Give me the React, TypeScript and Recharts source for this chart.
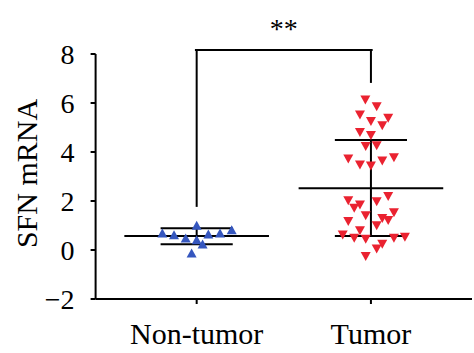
import { ScatterChart, Scatter, XAxis, YAxis, ReferenceLine, Label } from 'recharts';

const groups = ['Non-tumor', 'Tumor'];

// jittered x (group index + offset) and SFN mRNA values
const nonTumorX = [0.803, 0.87, 0.937, 1.0, 1.0, 1.034, 1.067, 1.134, 1.201, 0.971];
const nonTumorY = [0.69, 0.62, 0.49, 1.01, 0.42, 0.24, 0.65, 0.69, 0.83, -0.12];

const tumorX = [
  1.968, 2.033, 1.937, 2.099, 2.0, 2.065, 1.937, 2.0, 1.97, 2.033,
  1.87, 1.937, 2.0, 2.065, 2.132, 1.87, 1.937, 2.033, 2.099, 1.904,
  1.97, 2.065, 2.132, 2.099, 1.87, 2.033, 1.937, 1.838, 1.904, 1.97,
  2.132, 2.195, 2.065, 2.033, 1.97,
];
const tumorY = [
  6.12, 5.85, 5.51, 5.38, 5.24, 5.07, 4.8, 4.67, 4.22, 4.26,
  3.71, 3.47, 3.43, 3.63, 3.77, 2.01, 1.84, 1.97, 2.18, 1.7,
  1.4, 1.29, 1.52, 1.2, 1.16, 0.99, 0.79, 0.61, 0.48, 0.44,
  0.48, 0.52, 0.23, 0.04, -0.27,
];

const groupMean = [0.57, 2.52];
const groupSdLow = [0.23, 0.57];
const groupSdHigh = [0.89, 4.49];

const yTicks = [-2, 0, 2, 4, 6, 8];

const nonTumorData = nonTumorX.map((x, i) => ({ x, y: nonTumorY[i] }));
const tumorData = tumorX.map((x, i) => ({ x, y: tumorY[i] }));

const FONT = '"Liberation Serif", "Times New Roman", serif';
const MEAN_HALF = 0.415;
const SD_HALF = 0.207;

const UpTri = (props: any) => {
  const { cx, cy } = props;
  return <polygon points={`${cx},${cy - 4.5} ${cx - 5},${cy + 4.5} ${cx + 5},${cy + 4.5}`} fill="#3556be" />;
};

const DownTri = (props: any) => {
  const { cx, cy } = props;
  return <polygon points={`${cx - 5},${cy - 4.5} ${cx + 5},${cy - 4.5} ${cx},${cy + 4.5}`} fill="#ea2230" />;
};

export default function App() {
  const line = { stroke: '#000', strokeWidth: 2 };
  return (
    <div style={{ position: 'absolute', left: 0, top: 0, background: '#fff' }}>
      <ScatterChart width={474} height={353} margin={{ top: 54, right: 2, bottom: 0, left: 0 }}>
        <XAxis
          type="number"
          dataKey="x"
          domain={[0.42, 2.58]}
          ticks={[1, 2]}
          tickFormatter={(v: number) => groups[v - 1]}
          allowDataOverflow
          height={54}
          tickSize={5}
          tickMargin={19}
          axisLine={line}
          tickLine={line}
          tick={{ fill: '#000', fontSize: 30, fontFamily: FONT }}
        />
        <YAxis
          type="number"
          dataKey="y"
          domain={[-2, 8]}
          ticks={yTicks}
          tickFormatter={(v: number) => (v < 0 ? '\u2212' + Math.abs(v) : String(v))}
          width={95.6}
          tickSize={5}
          tickMargin={16}
          axisLine={line}
          tickLine={line}
          tick={{ fill: '#000', fontSize: 28, fontFamily: FONT }}
        >
          <Label
            content={({ viewBox }: any) => {
              const x = viewBox.x + 37;
              const y = viewBox.y + viewBox.height / 2 - 3;
              return (
                <text x={x} y={y} transform={`rotate(-90 ${x} ${y})`} textAnchor="middle" fontSize={30} fontFamily={FONT} fill="#000">
                  SFN mRNA
                </text>
              );
            }}
          />
        </YAxis>

        {groups.map((g, i) => (
          <ReferenceLine key={g + 'mean'} segment={[{ x: i + 1 - MEAN_HALF, y: groupMean[i] }, { x: i + 1 + MEAN_HALF, y: groupMean[i] }]} {...line} />
        ))}
        {groups.map((g, i) => (
          <ReferenceLine key={g + 'hi'} segment={[{ x: i + 1 - SD_HALF, y: groupSdHigh[i] }, { x: i + 1 + SD_HALF, y: groupSdHigh[i] }]} {...line} />
        ))}
        {groups.map((g, i) => (
          <ReferenceLine key={g + 'lo'} segment={[{ x: i + 1 - SD_HALF, y: groupSdLow[i] }, { x: i + 1 + SD_HALF, y: groupSdLow[i] }]} {...line} />
        ))}
        {groups.map((g, i) => (
          <ReferenceLine key={g + 'v'} segment={[{ x: i + 1, y: groupSdLow[i] }, { x: i + 1, y: groupSdHigh[i] }]} {...line} />
        ))}

        {/* significance bracket */}
        <ReferenceLine ifOverflow="visible" segment={[{ x: 1, y: 1.76 }, { x: 1, y: 8.16 }]} {...line} />
        <ReferenceLine ifOverflow="visible" segment={[{ x: 2, y: 6.82 }, { x: 2, y: 8.16 }]} {...line} />
        <ReferenceLine
          ifOverflow="visible"
          segment={[{ x: 0.99, y: 8.16 }, { x: 2.01, y: 8.16 }]}
          {...line}
          label={{ value: '**', position: 'top', offset: 12, fontSize: 28, fontFamily: FONT, fill: '#000' }}
        />

        <Scatter data={nonTumorData} shape={UpTri} isAnimationActive={false} />
        <Scatter data={tumorData} shape={DownTri} isAnimationActive={false} />
      </ScatterChart>
    </div>
  );
}
